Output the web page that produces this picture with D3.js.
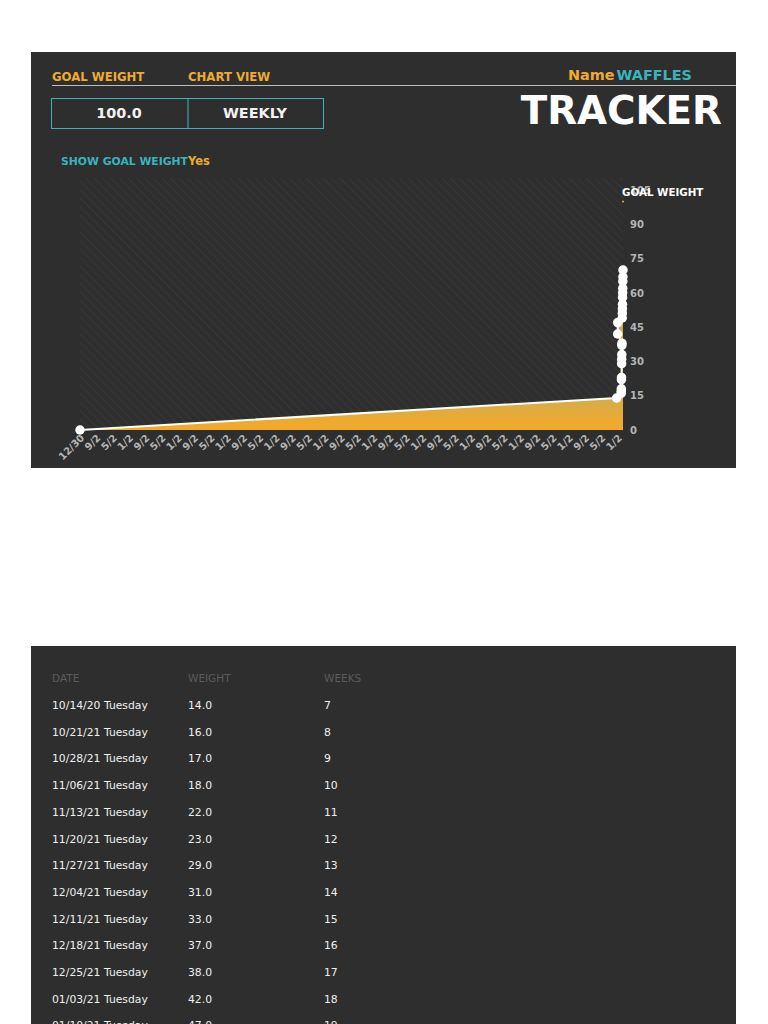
<!DOCTYPE html>
<html lang="en">
<head>
    <meta charset="UTF-8">
    <title>Weight Tracker</title>
    <style>
        html, body {
            margin: 0;
            padding: 0;
            background-color: #ffffff;
            font-family: 'DejaVu Sans', sans-serif;
        }
        svg { display: block; }
    </style>
</head>
<body>
    <div id="page"></div>
    <script src="https://d3js.org/d3.v7.min.js"></script>
    <script>
        const width = 768;
        const height = 1024;

        // DATA
        const goalWeight = 100;
        const chartView = "WEEKLY";
        const petName = "WAFFLES";
        const showGoal = "Yes";

        const startDate = "1899-12-30";
        const startWeight = 0;

        const entryDates = ["10/14/20", "10/21/21", "10/28/21", "11/06/21", "11/13/21", "11/20/21",
            "11/27/21", "12/04/21", "12/11/21", "12/18/21", "12/25/21", "01/03/21", "01/10/21",
            "01/17/22", "01/24/22", "01/31/22", "02/07/22", "02/14/22", "02/21/22", "02/28/22",
            "03/07/22", "03/14/22", "03/21/22"];
        const entryDays = ["Tuesday", "Tuesday", "Tuesday", "Tuesday", "Tuesday", "Tuesday",
            "Tuesday", "Tuesday", "Tuesday", "Tuesday", "Tuesday", "Tuesday", "Tuesday",
            "Tuesday", "Tuesday", "Tuesday", "Tuesday", "Tuesday", "Tuesday", "Tuesday",
            "Tuesday", "Tuesday", "Tuesday"];
        const weights = [14, 16, 17, 18, 22, 23, 29, 31, 33, 37, 38, 42, 47,
            49, 51, 53, 55, 58, 60, 62, 65, 67, 70];
        const weeks = [7, 8, 9, 10, 11, 12, 13, 14, 15, 16, 17, 18, 19,
            20, 21, 22, 23, 24, 25, 26, 27, 28, 29];

        const xTickDates = ["1899-12-30", "1903-09-02", "1907-05-02", "1911-01-02", "1914-09-02",
            "1918-05-02", "1922-01-02", "1925-09-02", "1929-05-02", "1933-01-02", "1936-09-02",
            "1940-05-02", "1944-01-02", "1947-09-02", "1951-05-02", "1955-01-02", "1958-09-02",
            "1962-05-02", "1966-01-02", "1969-09-02", "1973-05-02", "1977-01-02", "1980-09-02",
            "1984-05-02", "1988-01-02", "1991-09-02", "1995-05-02", "1999-01-02", "2002-09-02",
            "2006-05-02", "2010-01-02", "2013-09-02", "2017-05-02", "2021-01-02"];
        const yTicks = [0, 15, 30, 45, 60, 75, 90, 105];

        const tableHeaders = ["DATE", "WEIGHT", "WEEKS"];

        const orange = "#f0ab2f";
        const teal = "#3ab3bf";
        const panel = "#2d2e2d";

        const parseIso = d3.timeParse("%Y-%m-%d");
        const parseEntry = d3.timeParse("%m/%d/%y");
        const tickFmt = d3.timeFormat("%-m/%-d");

        const points = [{date: parseIso(startDate), w: startWeight}]
            .concat(entryDates.map((d, i) => ({date: parseEntry(d), w: weights[i]})));
        const entryPts = points.slice(1);

        const svg = d3.select("#page")
            .append("svg")
            .attr("width", width)
            .attr("height", height);

        const defs = svg.append("defs");

        // diagonal stripes behind the plot
        const pat = defs.append("pattern")
            .attr("id", "stripes")
            .attr("patternUnits", "userSpaceOnUse")
            .attr("width", 6)
            .attr("height", 6)
            .attr("patternTransform", "rotate(-45)");
        pat.append("rect").attr("width", 6).attr("height", 6).attr("fill", panel);
        pat.append("line")
            .attr("x1", 0).attr("y1", 0).attr("x2", 0).attr("y2", 6)
            .attr("stroke", "#363636").attr("stroke-width", 2);

        // PANELS
        svg.append("rect")
            .attr("x", 31).attr("y", 52)
            .attr("width", 705).attr("height", 416)
            .attr("fill", panel);
        svg.append("rect")
            .attr("x", 31).attr("y", 646)
            .attr("width", 705).attr("height", 400)
            .attr("fill", panel);

        // HEADER
        const head = svg.append("g").style("font-weight", "bold");
        head.append("text").text("GOAL WEIGHT")
            .attr("x", 52).attr("y", 81).attr("fill", orange).style("font-size", "11.7px");
        head.append("text").text("CHART VIEW")
            .attr("x", 188).attr("y", 81).attr("fill", orange).style("font-size", "11.7px");
        svg.append("line")
            .attr("x1", 52).attr("x2", 736).attr("y1", 85.5).attr("y2", 85.5)
            .attr("stroke", "#bdbdbd").attr("stroke-width", 1);

        const nameText = head.append("text").attr("x", 568).attr("y", 80).style("font-size", "14.4px");
        nameText.append("tspan").text("Name").attr("fill", orange);
        nameText.append("tspan").text(petName).attr("fill", teal).attr("dx", 2);

        head.append("text").text("TRACKER")
            .attr("x", 722).attr("y", 123.5)
            .attr("text-anchor", "end")
            .attr("fill", "#ffffff")
            .style("font-size", "38.8px");

        svg.append("rect")
            .attr("x", 51.5).attr("y", 98.5).attr("width", 272).attr("height", 30)
            .attr("fill", "none").attr("stroke", teal).attr("stroke-width", 1);
        svg.append("line")
            .attr("x1", 188).attr("x2", 188).attr("y1", 98.5).attr("y2", 128.5)
            .attr("stroke", teal).attr("stroke-width", 1);
        head.append("text").text(d3.format(".1f")(goalWeight))
            .attr("x", 119).attr("y", 118).attr("text-anchor", "middle")
            .attr("fill", "#f2f2f2").style("font-size", "14.4px");
        head.append("text").text(chartView)
            .attr("x", 255).attr("y", 118).attr("text-anchor", "middle")
            .attr("fill", "#f2f2f2").style("font-size", "14.4px");

        head.append("text").text("SHOW GOAL WEIGHT")
            .attr("x", 61).attr("y", 165).attr("fill", teal).style("font-size", "10.8px");
        head.append("text").text(showGoal)
            .attr("x", 188).attr("y", 165).attr("fill", orange).style("font-size", "11.5px");

        // CHART
        const x = d3.scaleTime()
            .domain([parseIso(startDate), d3.max(entryPts, d => d.date)])
            .range([80, 623]);
        const y = d3.scaleLinear()
            .domain([0, 105])
            .range([430, 190]);

        svg.append("rect")
            .attr("x", 80).attr("y", 178)
            .attr("width", 543).attr("height", 252)
            .attr("fill", "url(#stripes)");

        const grad = defs.append("linearGradient")
            .attr("id", "areaFill")
            .attr("gradientUnits", "userSpaceOnUse")
            .attr("x1", 0).attr("x2", 0)
            .attr("y1", y(15)).attr("y2", y(0));
        grad.append("stop").attr("offset", "0%").attr("stop-color", "#d2ad50");
        grad.append("stop").attr("offset", "100%").attr("stop-color", "#f5a927");

        const area = d3.area()
            .x(d => x(d.date))
            .y0(y(0))
            .y1(d => y(d.w));
        svg.append("path")
            .datum(points)
            .attr("d", area)
            .attr("fill", "url(#areaFill)");

        const line = d3.line()
            .x(d => x(d.date))
            .y(d => y(d.w));
        svg.append("path")
            .datum(points)
            .attr("d", line)
            .attr("fill", "none")
            .attr("stroke", "#ffffff")
            .attr("stroke-width", 2);

        svg.append("g")
            .selectAll("circle")
            .data(points)
            .enter()
            .append("circle")
            .attr("cx", d => x(d.date))
            .attr("cy", d => y(d.w))
            .attr("r", 4.75)
            .attr("fill", "#ffffff");

        // goal weight line
        const goalExtent = d3.extent(entryPts, d => d.date);
        svg.append("line")
            .attr("x1", x(goalExtent[1]) - 1).attr("x2", x(goalExtent[1]) + 1)
            .attr("y1", y(goalWeight)).attr("y2", y(goalWeight))
            .attr("stroke", orange).attr("stroke-width", 1.5);

        // y axis (right)
        const yAxis = svg.append("g")
            .attr("transform", "translate(624,0)")
            .call(d3.axisRight(y).tickValues(yTicks).tickSize(0).tickPadding(6));
        yAxis.select(".domain").remove();
        yAxis.selectAll("text")
            .attr("fill", "#b5b5b5")
            .style("font-family", "'DejaVu Sans', sans-serif")
            .style("font-weight", "bold")
            .style("font-size", "10px");

        svg.append("text").text("GOAL WEIGHT")
            .attr("x", x(goalExtent[1]) - 1)
            .attr("y", y(goalWeight) - 5)
            .attr("fill", "#ffffff")
            .style("font-weight", "bold")
            .style("font-size", "10.3px");

        // x axis
        const xAxis = svg.append("g")
            .attr("transform", "translate(0,430)")
            .call(d3.axisBottom(x)
                .tickValues(xTickDates.map(parseIso))
                .tickFormat(tickFmt)
                .tickSize(0));
        xAxis.select(".domain").remove();
        xAxis.selectAll("text")
            .attr("fill", "#b5b5b5")
            .attr("text-anchor", "end")
            .attr("dy", "0.35em")
            .attr("transform", "translate(2,6) rotate(-45)")
            .attr("y", 0)
            .attr("x", 0)
            .style("font-family", "'DejaVu Sans', sans-serif")
            .style("font-weight", "bold")
            .style("font-size", "10px");

        // TABLE
        const colX = [52, 188, 324];
        svg.append("g")
            .selectAll("text")
            .data(tableHeaders)
            .enter()
            .append("text")
            .text(d => d)
            .attr("x", (d, i) => colX[i])
            .attr("y", 682)
            .attr("fill", "#5c5c5c")
            .style("font-size", "10.5px");

        const rows = svg.append("g")
            .selectAll("g")
            .data(entryDates)
            .enter()
            .append("g")
            .attr("transform", (d, i) => `translate(0, ${709 + i * 26.7})`)
            .attr("fill", "#f0f0f0")
            .style("font-size", "10.8px");
        rows.append("text").attr("x", colX[0]).text((d, i) => `${d} ${entryDays[i]}`);
        rows.append("text").attr("x", colX[1]).text((d, i) => d3.format(".1f")(weights[i]));
        rows.append("text").attr("x", colX[2]).text((d, i) => weeks[i]);
    </script>
</body>
</html>
